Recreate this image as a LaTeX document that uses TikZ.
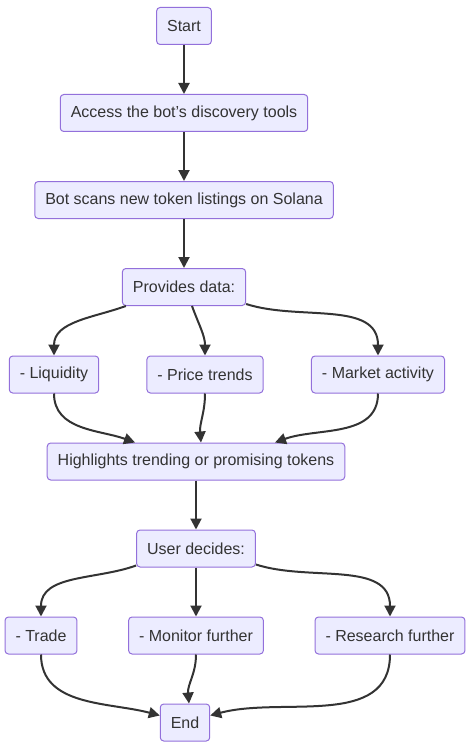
\documentclass[tikz,border=0pt]{standalone}
\usepackage{fontspec}
\setmainfont{Liberation Sans}
\usepackage{xcolor}
\usetikzlibrary{arrows.meta}
\definecolor{stepfill}{HTML}{ECECFF}
\definecolor{stepline}{HTML}{9370DB}
\definecolor{flowline}{HTML}{333333}

\begin{document}
\begin{tikzpicture}[
    x=1pt, y=1pt,
    stepbox/.style={draw=stepline, fill=stepfill, line width=1pt, rounded corners=3.5pt,
        minimum height=37pt, inner xsep=10.5pt, text=flowline,
        font=\fontsize{16}{19}\selectfont},
    flow/.style={draw=flowline, line width=2pt, -{Triangle[length=11pt,width=11pt]}},
]
\useasboundingbox (0,0) rectangle (474,-749);

\node[stepbox] (start) at (184,-26) {Start};
\node[stepbox] (access) at (184,-113) {Access the bot's discovery tools};
\node[stepbox] (scan) at (184,-200) {Bot scans new token listings on Solana};
\node[stepbox] (data) at (184,-287) {Provides data:};

% data items
\node[stepbox] (liq) at (54,-374.5) {- Liquidity};
\node[stepbox] (price) at (205,-374.5) {- Price trends};
\node[stepbox] (market) at (378,-374.5) {- Market activity};

\node[stepbox] (hl) at (196,-461.5) {Highlights trending or promising tokens};
\node[stepbox] (user) at (196,-548.5) {User decides:};

% choices
\node[stepbox] (trade) at (41,-635.5) {- Trade};
\node[stepbox] (monitor) at (196,-635.5) {- Monitor further};
\node[stepbox] (research) at (390,-635.5) {- Research further};

\node[stepbox] (end) at (185,-722.5) {End};

\draw[flow] (start) -- (access);
\draw[flow] (access) -- (scan);
\draw[flow] (scan) -- (data);

\draw[flow] ([xshift=4pt]data.south west) to[out=-160, in=90] (liq.north);
\draw[flow] ([xshift=8pt]data.south) to[out=-70, in=90] (price.north);
\draw[flow] ([yshift=2pt]data.south east) to[out=-18, in=90] (market.north);

\draw[flow] (liq.south) to[out=-90, in=160] ([xshift=-61pt]hl.north);
\draw[flow] (price.south) to[out=-90, in=95] ([xshift=5pt]hl.north);
\draw[flow] (market.south) to[out=-90, in=20] ([xshift=79pt]hl.north);

\draw[flow] (hl) -- (user);

\draw[flow] ([yshift=2pt]user.south west) to[out=-160, in=90] (trade.north);
\draw[flow] (user) -- (monitor);
\draw[flow] ([yshift=3pt]user.south east) to[out=-18, in=90] (research.north);

% all roads lead to End
\draw[flow] (trade.south) to[out=-90, in=165] ([yshift=7pt]end.west);
\draw[flow] (monitor.south) to[out=-90, in=95] ([xshift=4pt]end.north);
\draw[flow] (research.south) to[out=-90, in=15] ([yshift=7pt]end.east);

\end{tikzpicture}
\end{document}
